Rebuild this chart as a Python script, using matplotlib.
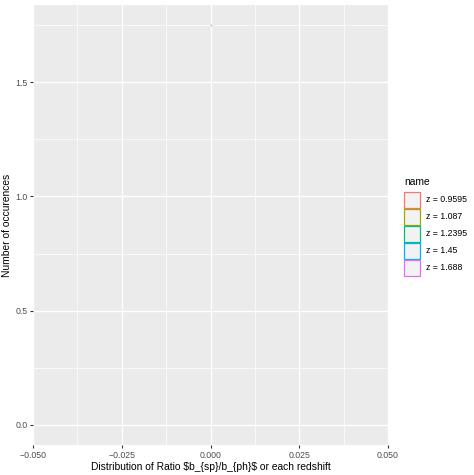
import matplotlib
matplotlib.use("Agg")
import matplotlib.pyplot as plt
from matplotlib.patches import Rectangle

plt.rcParams['font.family'] = ['Liberation Sans', 'DejaVu Sans']

# data
redshifts = ['0.9595', '1.087', '1.2395', '1.45', '1.688']
colors = ['#F8766D', '#A3A500', '#00BF7D', '#00B0F6', '#E76BF3']
bin_centers = [0.0]
counts = [1.75]
xticks = [-0.050, -0.025, 0.000, 0.025, 0.050]
xlabels = ['\u22120.050', '\u22120.025', '0.000', '0.025', '0.050']
yticks = [0.0, 0.5, 1.0, 1.5]
ylabels = ['0.0', '0.5', '1.0', '1.5']

W, H = 474, 475
fig = plt.figure(figsize=(W/100, H/100), dpi=100)
ax = fig.add_axes([33/W, 1-445/H, (388-33)/W, (445-5)/H])
ax.set_facecolor('#EBEBEB')
for s in ax.spines.values():
    s.set_visible(False)

# minor + major grid, ggplot style
for v in [-0.0375, -0.0125, 0.0125, 0.0375]:
    ax.axvline(v, color='white', lw=0.5, zorder=0)
for v in [0.25, 0.75, 1.25, 1.75]:
    ax.axhline(v, color='white', lw=0.5, zorder=0)
for v in xticks:
    ax.axvline(v, color='white', lw=1.0, zorder=0)
for v in yticks:
    ax.axhline(v, color='white', lw=1.0, zorder=0)

# the histograms collapse to a near-zero width bin at 0
ax.plot(bin_centers, counts, 's', ms=1.2, mec='none', color='#BDBDBD', zorder=2)

ax.set_xlim(-0.050, 0.050)
ax.set_ylim(-0.0875, 1.8375)
ax.set_xticks(xticks)
ax.set_xticklabels(xlabels)
ax.set_yticks(yticks)
ax.set_yticklabels(ylabels)
ax.tick_params(colors='#333333', labelcolor='#4D4D4D', labelsize=6.3, length=2.5, width=0.8, pad=1.5)

ax.set_xlabel(r'Distribution of Ratio \$b_{sp}/b_{ph}\$ or each redshift', fontsize=7.4, labelpad=2)
ax.set_ylabel('Number of occurences', fontsize=7.4, labelpad=2)

# legend drawn by hand, ggplot-like (key boxes stacked without gaps)
lax = fig.add_axes([0, 0, 1, 1])
lax.set_xlim(0, W)
lax.set_ylim(H, 0)
lax.axis('off')
lax.text(404, 182, 'name', fontsize=7.4, va='center', ha='left')
key = 17
for i, (z, c) in enumerate(zip(redshifts, colors)):
    y0 = 191 + i*key
    lax.add_patch(Rectangle((404.5, y0 + 0.5), key - 1, key - 1, facecolor='#F2F2F2', edgecolor=c, lw=0.9))
    lax.text(426, y0 + key/2, 'z = ' + z, fontsize=6.3, va='center', ha='left')

fig.savefig('out.png', dpi=100)
